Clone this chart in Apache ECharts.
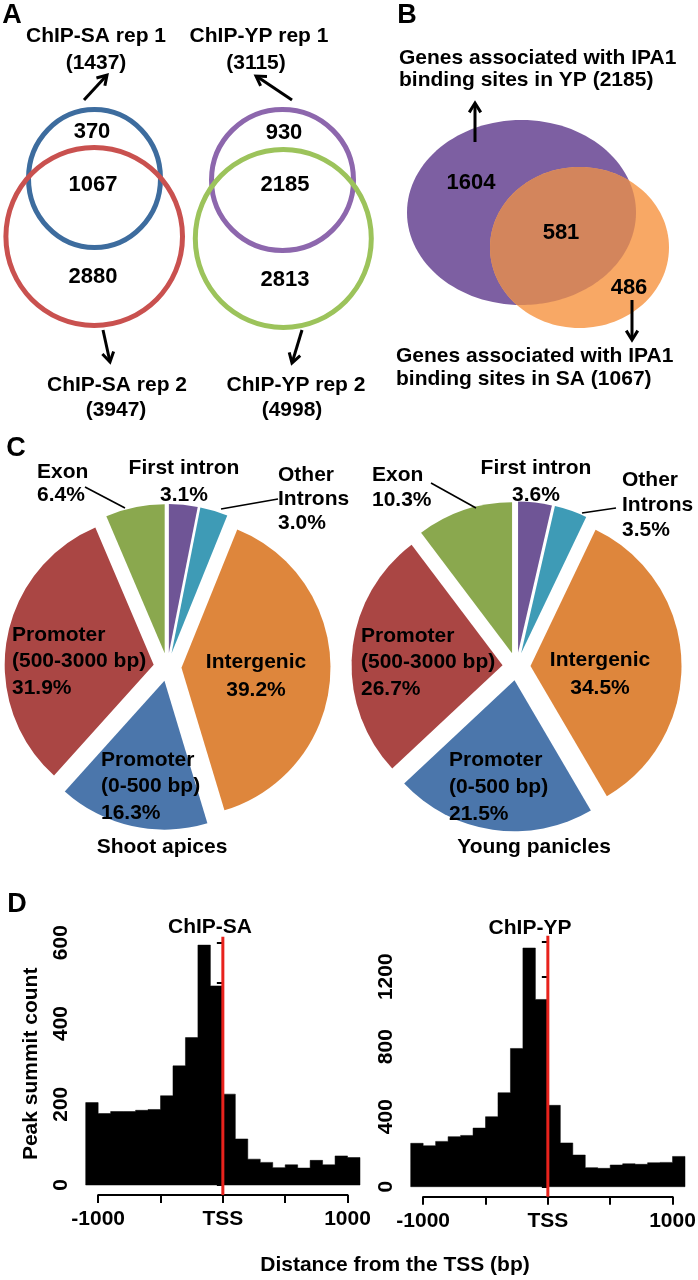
<!DOCTYPE html>
<html>
<head>
<meta charset="utf-8">
<script src="https://cdn.jsdelivr.net/npm/echarts@6/dist/echarts.min.js"></script>
<style>
html,body{margin:0;padding:0;background:#fff;}
#chart{width:698px;height:1280px;}
</style>
</head>
<body>
<div id="chart"></div>
<script>
// ---------------- DATA ----------------
var panelLetters = ['A', 'B', 'C', 'D'];
// Panel A: replicate Venn diagrams
var vennSANames = ['ChIP-SA rep 1', 'ChIP-SA rep 2'];
var vennSATotals = [1437, 3947];
var vennSACounts = [370, 1067, 2880];      // rep1 only, shared, rep2 only
var vennYPNames = ['ChIP-YP rep 1', 'ChIP-YP rep 2'];
var vennYPTotals = [3115, 4998];
var vennYPCounts = [930, 2185, 2813];
// Panel B: gene-level Venn
var geneSetNames = ['Genes associated with IPA1\nbinding sites in YP', 'Genes associated with IPA1\nbinding sites in SA'];
var geneSetTotals = [2185, 1067];
var geneCounts = [1604, 581, 486];         // YP only, shared, SA only
// Panel C: genomic distribution pies
var pieCategories = ['First intron', 'Other Introns', 'Intergenic', 'Promoter (0-500 bp)', 'Promoter (500-3000 bp)', 'Exon'];
var pieLabelNames = ['First intron', 'Other\nIntrons', 'Intergenic', 'Promoter\n(0-500 bp)', 'Promoter\n(500-3000 bp)', 'Exon'];
var pieSA = [3.1, 3.0, 39.2, 16.3, 31.9, 6.4];
var pieYP = [3.6, 3.5, 34.5, 21.5, 26.7, 10.3];
var pieTitles = ['Shoot apices', 'Young panicles'];
// Panel D: peak summit histograms
var binEdges = [-1100, -1000, -900, -800, -700, -600, -500, -400, -300, -200, -100, 0, 100, 200, 300, 400, 500, 600, 700, 800, 900, 1000, 1100];
var countsSA = [204, 177, 182, 182, 185, 187, 221, 295, 365, 594, 493, 225, 114, 64, 56, 43, 50, 42, 61, 50, 72, 68];
var countsYP = [248, 234, 259, 286, 293, 335, 400, 537, 790, 1364, 1070, 465, 250, 181, 109, 105, 124, 131, 128, 137, 139, 173];
var histTitles = ['ChIP-SA', 'ChIP-YP'];
var tssPosition = [0];
var xTickValues = [-1000, -500, 0, 500, 1000];
var xTickText = ['-1000', '', 'TSS', '', '1000'];
var yLabelStepSA = 200, yTickStepSA = 100, yMaxSA = 600;
var yLabelStepYP = 400, yTickStepYP = 200, yMaxYP = 1400;
var yAxisTitle = 'Peak summit count';
var xAxisTitle = 'Distance from the TSS (bp)';

// ---------------- STYLE / LAYOUT ----------------
var FONT = '"Liberation Sans", Arial, Helvetica, sans-serif';
function f(sz){ return 'bold ' + sz + 'px ' + FONT; }
var pieColors = ['#6f5596', '#3e9bb6', '#de863c', '#4b76ab', '#aa4644', '#8aa84e'];

var els = [];
function txt(x, y, s, align, sz, lh){
  els.push({type:'text', x:x, y:y, z:100, silent:true,
    style:{text:s, font:f(sz||21), fill:'#000', textAlign:align||'center', textVerticalAlign:'middle', lineHeight:lh||24}});
}
function arrow(x1, y1, x2, y2){
  var a = Math.atan2(y2 - y1, x2 - x1), h = 11, w = 0.55;
  els.push({type:'line', z:100, silent:true, shape:{x1:x1, y1:y1, x2:x2 - 2*Math.cos(a), y2:y2 - 2*Math.sin(a)}, style:{stroke:'#000', lineWidth:3}});
  els.push({type:'polyline', z:100, silent:true, shape:{points:[[x2 - h*Math.cos(a - w), y2 - h*Math.sin(a - w)], [x2, y2], [x2 - h*Math.cos(a + w), y2 - h*Math.sin(a + w)]]},
    style:{stroke:'#000', lineWidth:3, fill:null, lineJoin:'miter'}});
}
function ring(cx, cy, rx, ry, color){
  els.push({type:'ellipse', z:50, silent:true, shape:{cx:cx, cy:cy, rx:rx, ry:ry}, style:{fill:null, stroke:color, lineWidth:5}});
}
function seg(pts){
  els.push({type:'polyline', z:100, silent:true, shape:{points:pts}, style:{stroke:'#000', lineWidth:1.6, fill:null}});
}

// Panel letters
txt(12, 16, panelLetters[0], 'center', 27);
txt(407, 16, panelLetters[1], 'center', 27);
txt(16, 449, panelLetters[2], 'center', 27);
txt(17, 905, panelLetters[3], 'center', 27);

// Panel A
ring(94.5, 178.5, 66, 69, '#3d6c9e');
ring(94.2, 236.5, 88.3, 89, '#c9514f');
ring(282.5, 180, 71, 70.5, '#8d67ad');
ring(283.3, 238.5, 88, 89, '#9cc35b');
txt(96, 36, vennSANames[0]); txt(96, 63, '(' + vennSATotals[0] + ')');
txt(259, 36, vennYPNames[0]); txt(256, 63, '(' + vennYPTotals[0] + ')');
txt(92, 132, String(vennSACounts[0]), 'center', 22);
txt(93, 185, String(vennSACounts[1]), 'center', 22);
txt(93, 277, String(vennSACounts[2]), 'center', 22);
txt(284, 133, String(vennYPCounts[0]), 'center', 22);
txt(285, 185, String(vennYPCounts[1]), 'center', 22);
txt(285, 280, String(vennYPCounts[2]), 'center', 22);
txt(117, 385, vennSANames[1]); txt(116, 410, '(' + vennSATotals[1] + ')');
txt(296, 385, vennYPNames[1]); txt(292, 410, '(' + vennYPTotals[1] + ')');
arrow(84, 100, 107, 75);
arrow(292, 100, 256, 76);
arrow(103, 330, 110, 362);
arrow(302, 330, 292, 363);

// Panel B (ellipses + intersection polygon)
function ellPts(cx, cy, rx, ry, n){ var p = []; for (var i = 0; i < n; i++){ var t = 2*Math.PI*i/n; p.push([cx + rx*Math.cos(t), cy + ry*Math.sin(t)]); } return p; }
function cross(A, B, P){ return (B[0]-A[0])*(P[1]-A[1]) - (B[1]-A[1])*(P[0]-A[0]); }
function inter(A, B, P, Q){
  var a1 = cross(A, B, P), a2 = cross(A, B, Q), t = a1/(a1 - a2);
  return [P[0] + (Q[0]-P[0])*t, P[1] + (Q[1]-P[1])*t];
}
function clipPoly(subject, clip){
  var out = subject;
  for (var i = 0; i < clip.length; i++){
    var A = clip[i], B = clip[(i+1) % clip.length], inp = out; out = [];
    for (var j = 0; j < inp.length; j++){
      var P = inp[j], Q = inp[(j+1) % inp.length], iP = cross(A, B, P) >= 0, iQ = cross(A, B, Q) >= 0;
      if (iP){ out.push(P); if (!iQ) out.push(inter(A, B, P, Q)); }
      else if (iQ){ out.push(inter(A, B, P, Q)); }
    }
  }
  return out;
}
var ePurple = {cx:521.5, cy:212.5, rx:114.5, ry:92.5};
var eOrange = {cx:579.5, cy:247.5, rx:89.5, ry:80.5};
els.push({type:'ellipse', z:40, silent:true, shape:ePurple, style:{fill:'#7d5fa2'}});
els.push({type:'ellipse', z:41, silent:true, shape:eOrange, style:{fill:'#f8a865'}});
var lens = clipPoly(ellPts(eOrange.cx, eOrange.cy, eOrange.rx, eOrange.ry, 240), ellPts(ePurple.cx, ePurple.cy, ePurple.rx, ePurple.ry, 240));
els.push({type:'polygon', z:42, silent:true, shape:{points:lens}, style:{fill:'#d3855c'}});
txt(399, 69, geneSetNames[0] + ' (' + geneSetTotals[0] + ')', 'left', 21, 22);
txt(396, 368, geneSetNames[1] + ' (' + geneSetTotals[1] + ')', 'left', 21, 23);
txt(471, 183, String(geneCounts[0]), 'center', 22);
txt(561, 233, String(geneCounts[1]), 'center', 22);
txt(629, 288, String(geneCounts[2]), 'center', 22);
arrow(475, 142, 475, 103);
arrow(632, 300, 632, 340);

// Panel C labels: [x, firstLineY, align, lineHeight] per category
var pieLabelLayout = [
  [[184, 468, 'center', 27], [278, 475, 'left', 24], [256, 662, 'center', 28], [101, 760, 'left', 26.5], [12, 635, 'left', 26.5], [37, 472, 'left', 23]],
  [[536, 468, 'center', 27], [622, 480, 'left', 25], [600, 660, 'center', 28], [449, 760, 'left', 27], [361, 636, 'left', 26.5], [372, 475, 'left', 25]]
];
[pieSA, pieYP].forEach(function(vals, k){
  vals.forEach(function(v, i){
    var L = pieLabelLayout[k][i];
    var s = pieLabelNames[i] + '\n' + v.toFixed(1) + '%';
    var n = s.split('\n').length;
    txt(L[0], L[1] + (n - 1)*L[3]/2, s, L[2], 21, L[3]);
  });
});
seg([[85, 487], [125, 508]]);
seg([[221, 509], [278, 499]]);
seg([[431, 483], [476, 508]]);
seg([[582, 513], [616, 508]]);
txt(162, 847, pieTitles[0]);
txt(534, 847, pieTitles[1]);

// Panel D titles
txt(210, 927, histTitles[0]);
txt(530, 928, histTitles[1]);
txt(395, 1265, xAxisTitle);

// ---------------- CHART ----------------
var barGrids = [{left:85.7, top:942.7, width:274.3, height:242.3}, {left:410.7, top:941.7, width:274.3, height:245}];
function tickGrid(g, dy){
  var s = g.width / (binEdges[binEdges.length-1] - binEdges[0]);
  return {left:g.left + (xTickValues[0] - binEdges[0])*s, width:(xTickValues[xTickValues.length-1] - xTickValues[0])*s,
          top:g.top + g.height + dy - 1, height:1};
}
var grids = [barGrids[0], barGrids[1], tickGrid(barGrids[0], 10), tickGrid(barGrids[1], 10)];

function histData(counts){ return counts.map(function(c, i){ return [binEdges[i], binEdges[i+1], c]; }); }
// The whole histogram is drawn as one stepped polygon (no seams between bins),
// every vertex obtained from the axes through api.coord.
function makeHist(counts){
  return function(params, api){
    if (params.dataIndex !== 0) return null;
    var pts = [api.coord([binEdges[0], 0])];
    for (var i = 0; i < counts.length; i++){
      pts.push(api.coord([binEdges[i], counts[i]]));
      pts.push(api.coord([binEdges[i+1], counts[i]]));
    }
    pts.push(api.coord([binEdges[binEdges.length-1], 0]));
    return {type:'polygon', shape:{points:pts}, style:{fill:'#000', stroke:'#000', lineWidth:0.5}};
  };
}
function makeTss(ymax){
  return function(params, api){
    var t = api.coord([api.value(0), ymax]), b = api.coord([api.value(0), 0]);
    return {type:'line', shape:{x1:t[0], y1:t[1]-6, x2:b[0], y2:b[1]+10}, style:{stroke:'#e8221c', lineWidth:3}};
  };
}
var axisTxt = {color:'#000', fontSize:21, fontWeight:'bold', fontFamily:FONT};
function yAx(idx, max, tick, lab, name){
  return {type:'value', gridIndex:idx, min:0, max:max, interval:tick,
    axisLine:{show:true, lineStyle:{color:'#000', width:2}},
    axisTick:{show:true, length:6, lineStyle:{color:'#000', width:2}},
    splitLine:{show:false},
    axisLabel:Object.assign({rotate:90, margin:14, formatter:function(v){ return v % lab === 0 ? String(v) : ''; }}, axisTxt),
    name:name || '', nameLocation:'middle', nameGap:44, nameRotate:90, nameTextStyle:axisTxt};
}
function xTickAx(idx){
  return {type:'value', gridIndex:idx, min:xTickValues[0], max:xTickValues[xTickValues.length-1], interval:xTickValues[1]-xTickValues[0], position:'bottom',
    axisLine:{show:true, onZero:false, lineStyle:{color:'#000', width:2}},
    axisTick:{show:true, length:8, lineStyle:{color:'#000', width:2}},
    splitLine:{show:false},
    axisLabel:Object.assign({margin:14, showMinLabel:true, showMaxLabel:true, formatter:function(v){ var i = xTickValues.indexOf(v); return i >= 0 ? xTickText[i] : ''; }}, axisTxt)};
}
function pieSeries(vals, center, r){
  return {type:'pie', center:center, radius:r, startAngle:90, clockwise:true, selectedMode:'multiple', selectedOffset:14,
    silent:true, label:{show:false}, labelLine:{show:false}, emphasis:{disabled:true},
    select:{itemStyle:{borderWidth:0}},
    data:vals.map(function(v, i){ return {name:pieCategories[i], value:v, selected:true, itemStyle:{color:pieColors[i]}, select:{itemStyle:{color:pieColors[i]}}}; })};
}

var option = {
  animation:false,
  textStyle:{fontFamily:FONT},
  grid:grids.map(function(g){ return Object.assign({outerBoundsMode:'none', containLabel:false}, g); }),
  xAxis:[
    {type:'value', gridIndex:0, min:binEdges[0], max:binEdges[binEdges.length-1], show:false},
    {type:'value', gridIndex:1, min:binEdges[0], max:binEdges[binEdges.length-1], show:false},
    xTickAx(2), xTickAx(3)
  ],
  yAxis:[
    yAx(0, yMaxSA, yTickStepSA, yLabelStepSA, yAxisTitle),
    yAx(1, yMaxYP, yTickStepYP, yLabelStepYP, ''),
    {type:'value', gridIndex:2, show:false, min:0, max:1},
    {type:'value', gridIndex:3, show:false, min:0, max:1}
  ],
  series:[
    pieSeries(pieSA, [167.5, 667], 149),
    pieSeries(pieYP, [516.5, 666.5], 151),
    {type:'custom', xAxisIndex:0, yAxisIndex:0, renderItem:makeHist(countsSA), data:histData(countsSA), silent:true, z:2},
    {type:'custom', xAxisIndex:1, yAxisIndex:1, renderItem:makeHist(countsYP), data:histData(countsYP), silent:true, z:2},
    {type:'custom', xAxisIndex:0, yAxisIndex:0, renderItem:makeTss(yMaxSA), data:tssPosition.map(function(v){ return [v]; }), silent:true, clip:false, z:5},
    {type:'custom', xAxisIndex:1, yAxisIndex:1, renderItem:makeTss(yMaxYP), data:tssPosition.map(function(v){ return [v]; }), silent:true, clip:false, z:5}
  ],
  graphic:{elements:els}
};
var chart = echarts.init(document.getElementById('chart'), null, {renderer:'canvas'});
chart.setOption(option);
</script>
</body>
</html>
